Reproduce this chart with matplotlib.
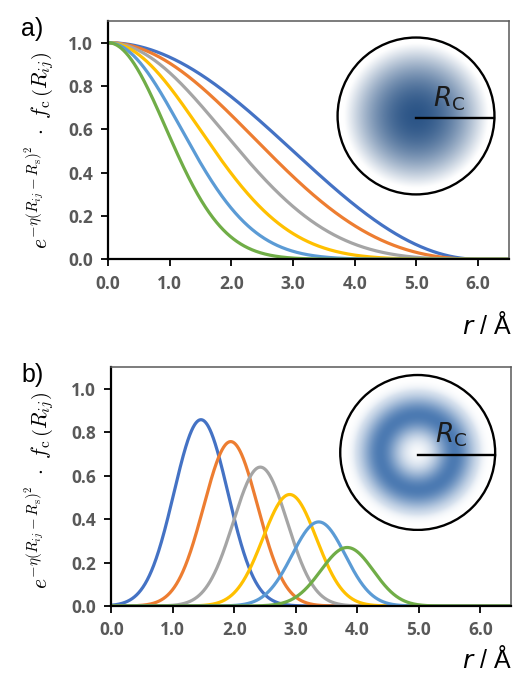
import numpy as np
import matplotlib
matplotlib.use("Agg")
import matplotlib.pyplot as plt
from matplotlib.patches import Circle

# ---------------- data (parameters) ----------------
r_cut = 6.0                                   # cutoff radius (Å)
eta_a = [0.0, 0.03, 0.08, 0.16, 0.29, 0.50]   # panel a widths (Å^-2)
rs_a = [0.0, 0.0, 0.0, 0.0, 0.0, 0.0]         # panel a shifts (Å)
eta_b = [2.5, 2.5, 2.5, 2.5, 2.5, 2.5]        # panel b widths (Å^-2)
rs_b = [1.5, 2.0, 2.5, 3.0, 3.5, 4.0]         # panel b shifts (Å)
series_colors = ['#4472C4', '#ED7D31', '#A5A5A5', '#FFC000', '#5B9BD5', '#70AD47']
x_ticks = [0.0, 1.0, 2.0, 3.0, 4.0, 5.0, 6.0]
y_ticks = [0.0, 0.2, 0.4, 0.6, 0.8, 1.0]
panel_labels = ['a)', 'b)']

r = np.linspace(0.0, 6.5, 1301)


def fc(x):
    return np.where(x <= r_cut, 0.5 * (np.cos(np.pi * x / r_cut) + 1.0), 0.0)


def g2(x, eta, rs):
    return np.exp(-eta * (x - rs) ** 2) * fc(x)


fig = plt.figure(figsize=(5.26, 6.8), dpi=100)

ax_a = fig.add_axes([0.2053, 0.6187, 0.7624, 0.3504])
ax_b = fig.add_axes([0.2116, 0.1088, 0.7600, 0.3515])

ylabel = r'$e^{-\eta(R_{ij}-R_\mathrm{s})^2}\ \cdot\ f_\mathrm{c}\,\left(R_{ij}\right)$'

for ax, etas, rss, lab_xy in ((ax_a, eta_a, rs_a, (-0.128, 0.455)),
                              (ax_b, eta_b, rs_b, (-0.137, 0.483))):
    for eta, rs, c in zip(etas, rss, series_colors):
        ax.plot(r, g2(r, eta, rs), color=c, lw=2.3, solid_capstyle='round')
    ax.set_xlim(0, 6.5)
    ax.set_ylim(0, 1.1)
    ax.set_xticks(x_ticks)
    ax.set_yticks(y_ticks)
    ax.set_xticklabels([f'{v:.1f}' for v in x_ticks])
    ax.set_yticklabels([f'{v:.1f}' for v in y_ticks])
    for lab in ax.get_xticklabels() + ax.get_yticklabels():
        lab.set_fontfamily('Open Sans')
        lab.set_fontweight('bold')
        lab.set_fontsize(12.5)
        lab.set_color('#595959')
    ax.tick_params(axis='both', direction='out', length=5, width=1.3,
                   color='black', pad=6)
    for s in ('left', 'bottom'):
        ax.spines[s].set_color('black')
        ax.spines[s].set_linewidth(1.6)
    for s in ('top', 'right'):
        ax.spines[s].set_color('#595959')
        ax.spines[s].set_linewidth(1.1)
    ax.set_ylabel(ylabel, fontsize=15.5, math_fontfamily='cm')
    ax.yaxis.set_label_coords(*lab_xy)

# panel letters and axis titles
fig.text(0.040, 0.957, panel_labels[0], fontsize=18, family='Liberation Sans',
         ha='left', va='center')
fig.text(0.040, 0.448, panel_labels[1], fontsize=18, family='Liberation Sans',
         ha='left', va='center')
fig.text(0.973, 0.521, r'$r$ / Å', fontsize=18, family='Liberation Sans',
         ha='right', va='center', math_fontfamily='dejavusans')
fig.text(0.973, 0.030, r'$r$ / Å', fontsize=18, family='Liberation Sans',
         ha='right', va='center', math_fontfamily='dejavusans')

# inset sphere illustrations
n = 401
gx, gy = np.meshgrid(np.linspace(-1, 1, n), np.linspace(-1, 1, n))
rr = np.hypot(gx, gy)


def shaded(alpha, rgb):
    rgb = np.array(rgb) / 255.0
    img = np.ones((n, n, 4))
    for k in range(3):
        img[..., k] = 1.0 - alpha * (1.0 - rgb[k])
    img[..., 3] = 1.0
    return img


alpha_a = np.clip(1.0 - (rr / 0.93) ** 2, 0, 1) ** 1.2
alpha_b = np.exp(-((rr - 0.48) / 0.26) ** 2) * np.clip((0.95 - rr) / 0.15, 0, 1)

for rect, alpha, col in (([0.6388, 0.7118, 0.3042, 0.2353], alpha_a, (44, 85, 135)),
                         ([0.6439, 0.2184, 0.3004, 0.2324], alpha_b, (76, 122, 178))):
    ai = fig.add_axes(rect)
    ai.set_xlim(-1.02, 1.02)
    ai.set_ylim(-1.02, 1.02)
    ai.axis('off')
    im = ai.imshow(shaded(alpha, col), extent=(-1, 1, -1, 1), origin='lower',
                   interpolation='bilinear')
    circ = Circle((0, 0), 1.0, facecolor='none', edgecolor='black', lw=1.7)
    ai.add_patch(circ)
    im.set_clip_path(circ)
    ai.plot([0, 1.0], [-0.03, -0.03], color='black', lw=1.7)
    ai.text(0.22, 0.04, r'$R_\mathrm{C}$', fontsize=19,
            math_fontfamily='dejavusans', ha='left', va='bottom', color='#1a1a1a')

fig.savefig('out.png', dpi=100)
